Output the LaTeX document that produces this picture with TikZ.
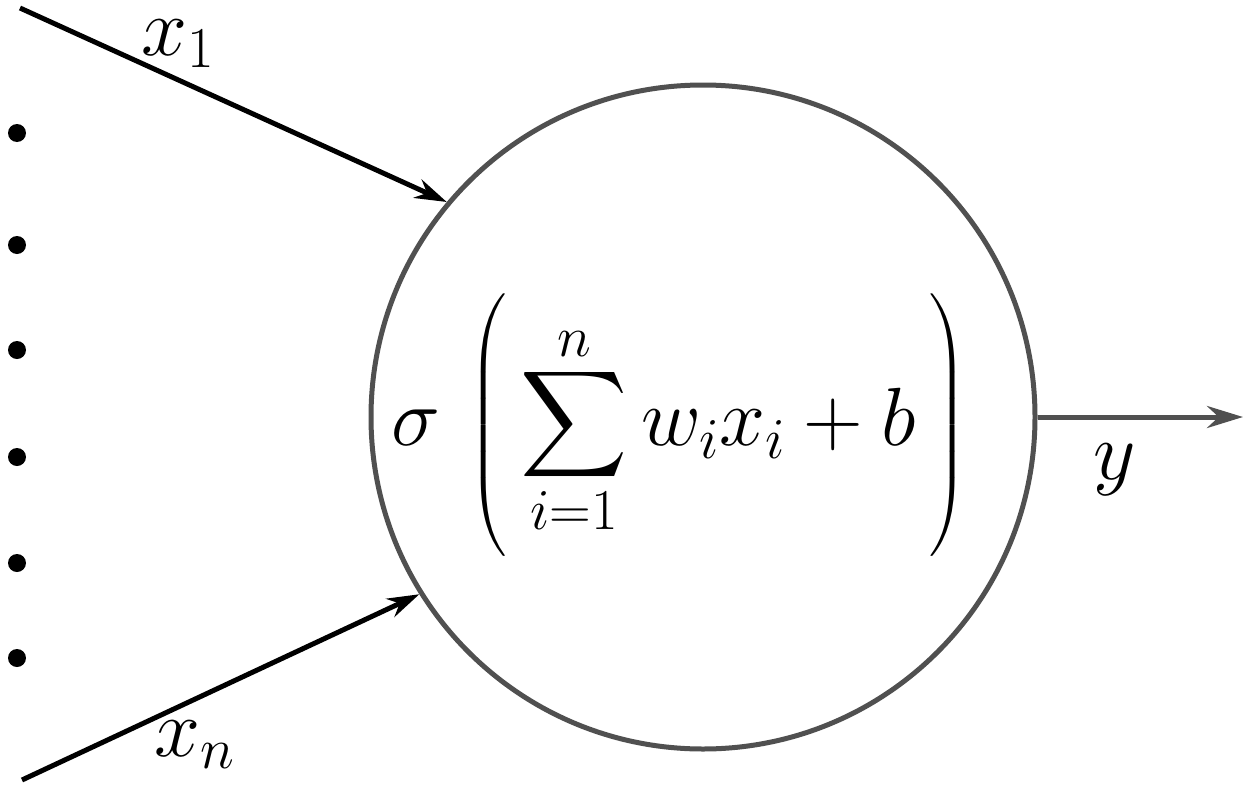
\RequirePackage{fix-cm}
\documentclass[tikz,border=0pt]{standalone}
\usepackage{amsmath}
\usepackage{exscale}
\usepackage{graphicx}
\usetikzlibrary{arrows.meta}
\definecolor{cg}{HTML}{505050}
\newcommand{\bigsum}{\mathop{\vcenter{\hbox{\scalebox{1.7}{$\displaystyle\sum$}}}}\limits}
\begin{document}
\begin{tikzpicture}[x=0.02cm,y=-0.02cm,
  big/.style={font=\fontsize{47}{56}\selectfont},
  dot/.style={circle,fill=black,inner sep=0pt,minimum size=18*0.02cm},
  arr/.style={line width=5*0.02cm,-{Stealth[length=32*0.02cm,width=20*0.02cm]}}]
\useasboundingbox (0,0) rectangle (1247,791);
\node[circle,draw=cg,line width=5*0.02cm,minimum size=664*0.02cm,inner sep=0pt] (c) at (703,417) {};
\node[big] (f) at (680,425) {$\displaystyle\sigma\,\left(\rule[-1.0em]{0pt}{2.8em}\bigsum_{i=1}^{n} w_i x_i + b\,\right)$};
\coordinate (a1) at (20,8);
\coordinate (an) at (22,780);
\coordinate (o) at (1243,417);
\draw[arr] (a1) -- (c.140.5);
\draw[arr] (an) -- (c.212.5);
\draw[arr,draw=cg,-{Stealth[length=36*0.02cm,width=22*0.02cm]}] (c.east) -- (o);
\foreach \y [count=\i] in {133,245,350,457,563,658} \node[dot] (d\i) at (17,\y) {};
\node[big] (l1) at (178,44) {$x_1$};
\node[big] (ln) at (195,745) {$x_n$};
\node[big] (ly) at (1115,470) {$y$};
\end{tikzpicture}
\end{document}
